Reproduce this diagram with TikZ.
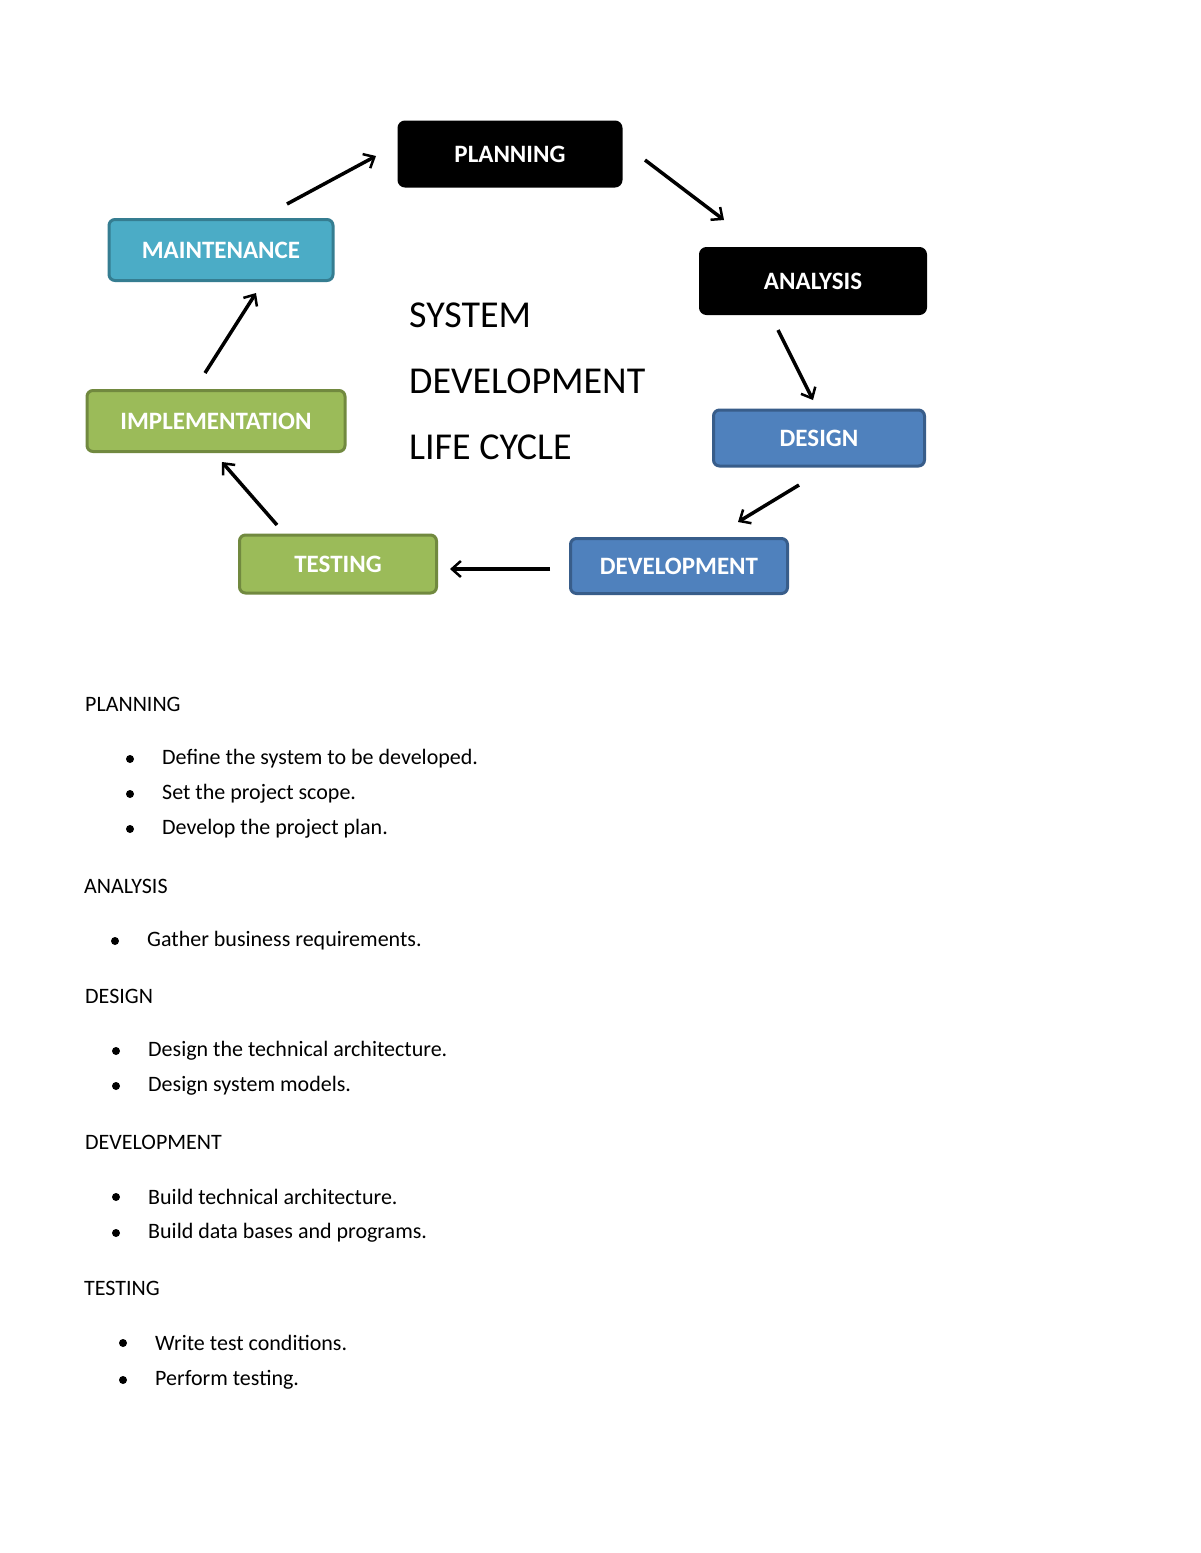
\documentclass[tikz,border=0pt]{standalone}
\usepackage{fontspec}
\setmainfont{Carlito}
\usetikzlibrary{arrows.meta}
\definecolor{blueF}{HTML}{4F81BD}\definecolor{blueD}{HTML}{385D8A}
\definecolor{greenF}{HTML}{9BBB59}\definecolor{greenD}{HTML}{71893F}
\definecolor{cyanF}{HTML}{4BACC6}\definecolor{cyanD}{HTML}{357D91}
\begin{document}
\begin{tikzpicture}[x=1pt,y=-1pt,
 box/.style={rounded corners=6pt,line width=3pt,text=white,font=\bfseries\fontsize{25}{28}\selectfont,inner sep=0pt},
 arr/.style={line width=3.5pt,-{Straight Barb[length=9pt,width=16pt,line width=2.5pt]}},
 body/.style={anchor=west,font=\fontsize{22}{26}\selectfont,inner sep=0pt}]
\useasboundingbox[fill=white] (0,0) rectangle (1200,1553);
\node[box,fill=black,draw=black,minimum width=222pt,minimum height=64pt] (pl) at (510,154) {PLANNING};
\node[box,fill=black,draw=black,minimum width=225pt,minimum height=65pt] (an) at (813,281) {ANALYSIS};
\node[box,fill=blueF,draw=blueD,minimum width=211pt,minimum height=56pt] (de) at (819,438) {DESIGN};
\node[box,fill=blueF,draw=blueD,minimum width=217pt,minimum height=55pt] (dv) at (679,566) {DEVELOPMENT};
\node[box,fill=greenF,draw=greenD,minimum width=197pt,minimum height=58pt] (te) at (338,564) {TESTING};
\node[box,fill=greenF,draw=greenD,minimum width=258pt,minimum height=61pt] (im) at (216,421) {IMPLEMENTATION};
\node[box,fill=cyanF,draw=cyanD,minimum width=224pt,minimum height=61pt] (ma) at (221,250) {MAINTENANCE};
\node[anchor=west,font=\fontsize{38}{40}\selectfont,inner sep=0pt] (t1) at (409,315) {SYSTEM};
\node[anchor=west,font=\fontsize{38}{40}\selectfont,inner sep=0pt] (t2) at (409,381) {DEVELOPMENT};
\node[anchor=west,font=\fontsize{38}{40}\selectfont,inner sep=0pt] (t3) at (409,447) {LIFE CYCLE};
\coordinate (a1) at (287,204); \coordinate (b1) at (376,156);
\coordinate (a2) at (645,160); \coordinate (b2) at (724,220);
\coordinate (a3) at (778,330); \coordinate (b3) at (813,400);
\coordinate (a4) at (799,485); \coordinate (b4) at (738,522);
\coordinate (a5) at (550,569); \coordinate (b5) at (450,569);
\coordinate (a6) at (277,525); \coordinate (b6) at (222,462);
\coordinate (a7) at (205,373); \coordinate (b7) at (256,293);
\foreach \i in {1,...,7} \draw[arr] (a\i) -- (b\i);
\node[body] (h1) at (85,704) {PLANNING};
\node[body] (h2) at (84,886) {ANALYSIS};
\node[body] (h3) at (85,996) {DESIGN};
\node[body] (h4) at (85,1142) {DEVELOPMENT};
\node[body] (h5) at (84,1288) {TESTING};
\foreach \y/\x/\t in {759/162/Define the system to be developed.,794/162/Set the project scope.,829/162/Develop the project plan.,941/147/Gather business requirements.,1051/148/Design the technical architecture.,1086/148/Design system models.,1197/148/Build technical architecture.,1233/148/Build data bases and programs.,1343/155/Write test conditions.,1380/155/Perform testing.}{
 \node[body] at (\x,\y) {\t};
 \fill (\x-32,\y) circle (4pt);}
\end{tikzpicture}
\end{document}
